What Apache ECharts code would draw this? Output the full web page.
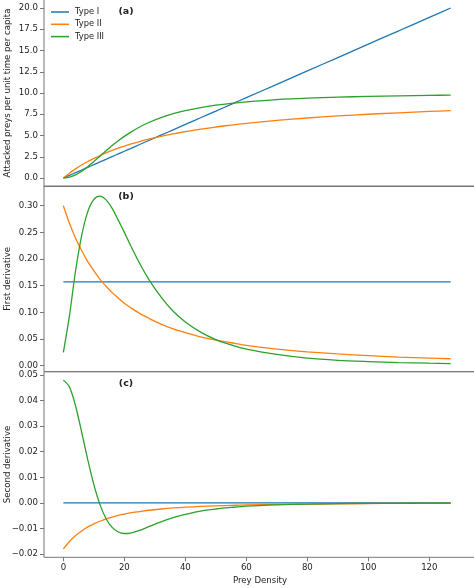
<!DOCTYPE html>
<html>
<head>
<meta charset="utf-8">
<script src="https://cdn.jsdelivr.net/npm/echarts@6/dist/echarts.min.js"></script>
<style>
  html, body { margin: 0; padding: 0; background: #fff; }
  #box { width: 474px; height: 588px; }
</style>
</head>
<body>
<div id="box"></div>
<script>
// prey density samples (x)
var preyDensity = [0, 2, 4, 6, 8, 10, 12, 14, 16, 18, 20, 22, 25, 28, 32, 36, 40, 45, 50, 55, 60, 70, 80, 90, 100, 110, 120, 127];

// (a) attacked preys per unit time per capita
var attackedTypeI = [0, 0.31, 0.63, 0.94, 1.26, 1.57, 1.89, 2.20, 2.52, 2.83, 3.15, 3.46, 3.94, 4.41, 5.04, 5.67, 6.30, 7.09, 7.87, 8.66, 9.45, 11.02, 12.60, 14.17, 15.75, 17.32, 18.90, 20.0];
var attackedTypeII = [0, 0.57, 1.07, 1.53, 1.94, 2.31, 2.65, 2.96, 3.24, 3.51, 3.75, 3.98, 4.29, 4.57, 4.90, 5.19, 5.45, 5.75, 6.00, 6.23, 6.43, 6.77, 7.06, 7.30, 7.50, 7.67, 7.83, 7.92];
var attackedTypeIII = [0, 0.10, 0.37, 0.80, 1.33, 1.94, 2.57, 3.20, 3.81, 4.37, 4.90, 5.37, 6.00, 6.53, 7.11, 7.57, 7.93, 8.29, 8.57, 8.79, 8.96, 9.22, 9.39, 9.51, 9.60, 9.67, 9.72, 9.75];

// (b) first derivative
var firstTypeI = [0.157, 0.157, 0.157, 0.157, 0.157, 0.157, 0.157, 0.157, 0.157, 0.157, 0.157, 0.157, 0.157, 0.157, 0.157, 0.157, 0.157, 0.157, 0.157, 0.157, 0.157, 0.157, 0.157, 0.157, 0.157, 0.157, 0.157, 0.157];
var firstTypeII = [0.300, 0.267, 0.239, 0.216, 0.195, 0.178, 0.162, 0.149, 0.137, 0.127, 0.117, 0.109, 0.098, 0.089, 0.078, 0.069, 0.062, 0.054, 0.048, 0.043, 0.038, 0.031, 0.026, 0.022, 0.019, 0.016, 0.014, 0.013];
var firstTypeIII = [0.025, 0.094, 0.178, 0.244, 0.289, 0.312, 0.318, 0.311, 0.295, 0.273, 0.250, 0.226, 0.192, 0.162, 0.129, 0.102, 0.082, 0.063, 0.049, 0.039, 0.031, 0.021, 0.014, 0.010, 0.0077, 0.0059, 0.0046, 0.0039];

// (c) second derivative
var secondTypeI = [0, 0, 0, 0, 0, 0, 0, 0, 0, 0, 0, 0, 0, 0, 0, 0, 0, 0, 0, 0, 0, 0, 0, 0, 0, 0, 0, 0];
var secondTypeII = [-0.0180, -0.0151, -0.0128, -0.0110, -0.0094, -0.0082, -0.0072, -0.0063, -0.0056, -0.0049, -0.0044, -0.0039, -0.0034, -0.0029, -0.0024, -0.0020, -0.0017, -0.0014, -0.0012, -0.0010, -0.0008, -0.0006, -0.0005, -0.0004, -0.0003, -0.0002, -0.0002, -0.0002];
var secondTypeIII = [0.0480, 0.0453, 0.0379, 0.0277, 0.0169, 0.0071, -0.0007, -0.0062, -0.0096, -0.0114, -0.0120, -0.0118, -0.0108, -0.0093, -0.0074, -0.0058, -0.0045, -0.0032, -0.0024, -0.0018, -0.0013, -0.0008, -0.0005, -0.0003, -0.0002, -0.0002, -0.0001, -0.0001];

// tick labels
var xTicks = [0, 20, 40, 60, 80, 100, 120];
var ticksA = [0, 2.5, 5, 7.5, 10, 12.5, 15, 17.5, 20];
var ticksB = [0, 0.05, 0.1, 0.15, 0.2, 0.25, 0.3];
var ticksC = [-0.02, -0.01, 0, 0.01, 0.02, 0.03, 0.04, 0.05];

var typeNames = ['Type I', 'Type II', 'Type III'];
var colors = ['#1f77b4', '#ff7f0e', '#2ca02c'];

var FONT = 'DejaVu Sans';
var INK = '#222';
var SPINE = '#777';

function pairs(ys) {
    return preyDensity.map(function(x, i) { return [x, ys[i]]; });
}

function fmt(digits) {
    return function(v) { return Number(v).toFixed(digits).replace('-', '\u2212'); };
}

var chart = echarts.init(document.getElementById('box'), null, { renderer: 'canvas' });

var grids = [
    { left: 44, top: -0.5, width: 432, height: 187 },
    { left: 44, top: 186, width: 432, height: 185.7 },
    { left: 44, top: 371.7, width: 432, height: 185.6 }
];
grids.forEach(function(g) {
    g.show = true;
    g.borderColor = SPINE;
    g.borderWidth = 1;
    g.backgroundColor = 'transparent';
    g.containLabel = false;
    g.outerBoundsMode = 'none';
});

function xAxis(idx, showLabels) {
    return {
        type: 'value',
        gridIndex: idx,
        position: 'bottom',
        min: -6.35,
        max: 135.3,
        splitLine: { show: false },
        axisLine: { show: false, onZero: false },
        axisTick: { show: showLabels, length: 4, lineStyle: { color: SPINE }, customValues: xTicks },
        axisLabel: {
            show: showLabels, customValues: xTicks, margin: 6,
            fontFamily: FONT, fontSize: 8.6, color: INK
        },
        name: showLabels ? 'Prey Density' : '',
        nameLocation: 'middle',
        nameGap: 19,
        nameMoveOverlap: false,
        nameTextStyle: { fontFamily: FONT, fontSize: 8.6, color: INK }
    };
}

function yAxis(idx, min, max, ticks, digits, name) {
    return {
        type: 'value',
        gridIndex: idx,
        position: 'left',
        min: min,
        max: max,
        splitLine: { show: false },
        axisLine: { show: false, onZero: false },
        axisTick: { show: true, length: 4, lineStyle: { color: SPINE }, customValues: ticks },
        axisLabel: {
            customValues: ticks, margin: 6, formatter: fmt(digits),
            fontFamily: FONT, fontSize: 8.6, color: INK
        },
        name: name,
        nameLocation: 'middle',
        nameRotate: 90,
        nameGap: 32,
        nameMoveOverlap: false,
        nameTextStyle: { fontFamily: FONT, fontSize: 8.6, color: INK }
    };
}

var panels = [
    [attackedTypeI, attackedTypeII, attackedTypeIII],
    [firstTypeI, firstTypeII, firstTypeIII],
    [secondTypeI, secondTypeII, secondTypeIII]
];

var series = [];
panels.forEach(function(p, idx) {
    p.forEach(function(ys, k) {
        series.push({
            name: typeNames[k],
            type: 'line',
            xAxisIndex: idx,
            yAxisIndex: idx,
            data: pairs(ys),
            smooth: 0.3,
            symbol: 'none',
            lineStyle: { width: 1.3, color: colors[k] },
            itemStyle: { color: colors[k] },
            z: 2 + k
        });
    });
});

var option = {
    animation: false,
    backgroundColor: '#fff',
    grid: grids,
    xAxis: [xAxis(0, false), xAxis(1, false), xAxis(2, true)],
    yAxis: [
        yAxis(0, -1, 21, ticksA, 1, 'Attacked preys per unit time per capita'),
        yAxis(1, -0.0113, 0.337, ticksB, 2, 'First derivative'),
        yAxis(2, -0.0213, 0.0513, ticksC, 2, 'Second derivative')
    ],
    legend: {
        data: typeNames,
        orient: 'vertical',
        left: 51,
        top: 7,
        padding: 0,
        icon: 'rect',
        itemWidth: 18,
        itemHeight: 1.5,
        itemGap: 2.3,
        textStyle: { fontFamily: FONT, fontSize: 8.3, color: INK, lineHeight: 10, padding: [0, 0, 0, 1] }
    },
    graphic: [
        { type: 'text', x: 126, y: 12, style: { text: '(a)', font: 'bold 9.5px "DejaVu Sans"', fill: INK, textAlign: 'center', textVerticalAlign: 'middle' } },
        { type: 'text', x: 126, y: 197, style: { text: '(b)', font: 'bold 9.5px "DejaVu Sans"', fill: INK, textAlign: 'center', textVerticalAlign: 'middle' } },
        { type: 'text', x: 126, y: 384, style: { text: '(c)', font: 'bold 9.5px "DejaVu Sans"', fill: INK, textAlign: 'center', textVerticalAlign: 'middle' } }
    ],
    series: series
};

chart.setOption(option);
</script>
</body>
</html>
